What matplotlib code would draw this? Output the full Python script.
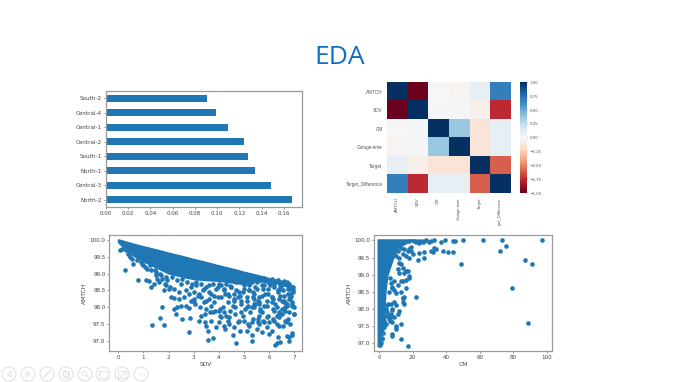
import matplotlib
matplotlib.use("Agg")
import matplotlib.pyplot as plt
from matplotlib.patches import Circle, Polygon, Rectangle
from matplotlib.transforms import Bbox

W, H = 680, 382
regions = ["North-2", "Central-3", "North-1", "South-1", "Central-2", "Central-1", "Central-4", "South-2"]
shares = [0.167, 0.1486, 0.134, 0.128, 0.124, 0.11, 0.099, 0.091]
share_ticks = [0.00, 0.02, 0.04, 0.06, 0.08, 0.10, 0.12, 0.14, 0.16]

corr_labels = ["AMTCH", "SDV", "CM", "Outage-time", "Target", "Target_Difference"]
corr = [
    [1.00, -0.98, 0.00, -0.03, 0.08, 0.68],
    [-0.98, 1.00, 0.02, 0.02, -0.05, -0.75],
    [0.00, 0.02, 1.00, 0.38, -0.13, 0.08],
    [-0.03, 0.02, 0.38, 1.00, -0.13, 0.08],
    [0.08, -0.05, -0.13, -0.13, 1.00, -0.60],
    [0.68, -0.75, 0.08, 0.08, -0.60, 1.00],
]

# saturated wedge of the SDV scatter, read as an envelope
sdv_env = [0, 0.5, 1, 1.5, 2, 2.5, 3, 3.5, 4, 4.5, 5, 5.5, 6, 6.5, 6.9]
sdv_top = [100.02, 99.91, 99.81, 99.72, 99.62, 99.53, 99.43, 99.34, 99.24, 99.15, 99.05, 98.96, 98.86, 98.78, 98.62]
sdv_bot = [99.95, 99.6, 99.38, 99.2, 99.02, 98.93, 98.85, 98.82, 98.8, 98.75, 98.7, 98.8, 98.75, 98.7, 98.55]

sdv_x = [0.05, 0.25, 0.4, 0.55, 0.6, 0.75, 0.9, 0.93, 0.8, 1.1, 1.2, 1.3, 1.4, 1.35, 1.65, 1.75, 1.8, 1.25, 1.45, 1.5, 1.55,
         1.6, 1.7, 1.8, 1.9, 2.0, 2.1, 2.2, 2.2, 2.3, 2.35, 2.4, 2.5, 2.55, 2.8, 2.85, 2.8, 3.0, 1.75, 1.85, 1.95, 2.05,
         2.2, 2.4, 2.5, 2.6, 2.7, 2.8, 2.9, 3.0, 3.1, 3.2, 3.3, 3.4, 3.5, 3.6, 3.7, 3.8, 3.9, 4.0,
         2.7, 2.9, 3.05, 3.15, 3.25, 3.4, 3.5, 3.6, 3.7, 3.85, 3.95, 4.05, 4.15, 4.25, 4.35, 4.45,
         3.2, 3.3, 3.45, 3.55, 3.55, 3.5, 3.7, 3.75, 3.65, 3.9, 4.0, 4.1, 4.2, 4.25, 4.35, 4.4, 4.55, 4.6, 4.7, 4.85, 4.75,
         4.1, 4.2, 4.3, 4.4, 4.5, 4.6, 4.7, 4.8, 4.9, 5.0, 5.1, 5.2, 5.3, 5.4, 5.5,
         4.05, 4.2, 4.4, 4.55, 4.65, 4.8, 4.95, 5.05, 5.15, 5.25, 5.35, 5.45, 5.55, 5.65,
         4.5, 4.6, 4.75, 4.9, 5.0, 5.1, 5.2, 5.3, 5.4, 5.5, 5.6, 5.7, 5.8, 5.9, 6.0,
         5.0, 5.1, 5.2, 5.3, 5.32, 5.3, 5.5, 5.55, 5.6, 5.7, 5.8, 5.9, 6.0, 6.1, 6.2, 6.25, 6.3, 6.35, 6.4, 6.45,
         5.2, 5.35, 5.45, 5.6, 5.75, 5.85, 5.95, 6.05, 6.15, 6.25, 6.35, 6.45, 6.55, 6.65, 6.75, 6.85, 6.95,
         5.4, 5.55, 5.7, 5.8, 5.95, 6.1, 6.2, 6.3, 6.4, 6.5, 6.6, 6.7, 6.8, 6.9, 6.97,
         5.5, 5.65, 5.8, 5.95, 6.1, 6.2, 6.35, 6.5, 6.6, 6.7, 6.8, 6.9, 6.95, 6.85,
         5.6, 5.75, 5.9, 6.0, 6.15, 6.3, 6.4, 6.55, 6.62, 6.68, 6.75, 6.82, 6.92, 6.97, 6.72, 6.8, 6.78, 6.9, 6.7,
         6.1, 6.25, 6.4, 6.5, 6.6, 6.7, 6.85, 6.95, 6.3, 6.5, 6.65, 6.8, 6.9, 6.6, 6.75, 6.55, 6.45, 6.88, 6.97]
sdv_y = [99.7, 99.1, 99.6, 99.45, 99.3, 99.4, 99.35, 99.3, 98.8, 98.8, 98.77, 98.6, 98.7, 97.48, 97.67, 98.0, 97.48, 99.25, 99.1, 98.95, 98.85,
         98.75, 98.95, 98.5, 98.65, 98.55, 98.3, 98.28, 97.95, 97.8, 98.0, 98.25, 98.05, 97.65, 97.27, 97.67, 97.98, 98.15, 98.85, 98.7, 98.8, 98.6,
         98.55, 98.45, 98.7, 98.3, 98.5, 98.4, 98.6, 98.45, 98.75, 98.4, 98.3, 98.55, 98.2, 98.65, 98.4, 98.15, 98.55, 98.7,
         98.05, 98.2, 98.1, 98.35, 98.0, 98.15, 97.95, 98.25, 98.05, 97.9, 98.3, 97.75, 98.0, 98.4, 98.15, 97.9,
         97.6, 97.75, 97.55, 97.3, 97.03, 97.45, 97.6, 97.08, 97.85, 97.4, 97.55, 97.7, 97.45, 97.35, 97.6, 97.5, 97.18, 97.4, 96.92, 97.28, 97.55,
         98.65, 98.5, 98.7, 98.35, 98.6, 98.2, 98.75, 98.45, 98.1, 98.55, 98.3, 98.65, 98.0, 98.4, 98.75,
         97.95, 97.85, 97.7, 98.05, 97.8, 97.6, 97.75, 97.95, 97.5, 97.85, 97.65, 98.1, 97.55, 97.95,
         98.6, 98.4, 98.3, 98.2, 98.65, 98.0, 98.5, 98.75, 98.25, 98.55, 98.1, 98.35, 98.65, 98.2, 98.75,
         97.6, 97.3, 97.45, 97.55, 96.98, 97.18, 97.35, 97.65, 97.5, 97.25, 97.55, 97.4, 97.2, 97.3, 97.58, 96.88, 96.92, 97.1, 97.45, 96.95,
         98.7, 98.45, 98.85, 98.3, 98.55, 98.8, 98.4, 98.65, 98.25, 98.75, 98.5, 98.35, 98.7, 98.15, 98.55, 98.4, 98.6,
         98.0, 98.2, 97.85, 98.05, 97.75, 98.15, 97.9, 98.0, 97.8, 98.2, 97.95, 98.1, 97.85, 98.15, 97.8,
         98.9, 98.8, 98.88, 98.75, 98.85, 98.7, 98.8, 98.65, 98.78, 98.75, 98.7, 98.6, 98.5, 98.55,
         97.75, 97.6, 97.7, 97.55, 97.65, 97.5, 97.7, 97.45, 97.6, 97.55, 97.65, 97.5, 97.22, 97.8, 97.15, 97.1, 97.0, 97.18, 97.6,
         98.3, 98.1, 98.25, 97.95, 98.35, 98.05, 98.3, 98.45, 97.75, 97.8, 97.9, 98.25, 98.05, 98.2, 98.4, 98.5, 98.55, 98.35, 98.0]

# second reading of the fringe just under the SDV wedge
fringe_x = [0.15, 0.3, 0.45, 0.7, 1.0, 1.05, 1.15, 1.3, 1.5, 1.65, 1.9, 2.15, 2.35, 2.55, 2.75, 2.95, 3.1, 3.3, 3.5, 3.75, 3.95, 4.2, 4.45, 4.7,
            4.95, 5.2, 5.45, 5.7, 5.95, 6.2, 6.45, 3.0, 3.35, 3.6, 3.8, 4.1, 4.35, 4.6, 4.85, 5.1, 5.35, 5.6, 5.85, 6.1, 6.35, 6.6, 6.85,
            3.45, 3.75, 4.0, 4.3, 4.65, 4.9, 5.15, 5.4, 5.65, 5.9, 6.15, 6.4, 6.65, 6.92]
fringe_y = [99.75, 99.7, 99.5, 99.55, 99.25, 99.2, 99.15, 99.1, 99.05, 99.0, 98.9, 98.9, 98.8, 98.85, 98.75, 98.7, 98.65, 98.7, 98.6, 98.68, 98.6, 98.55, 98.62, 98.5,
            98.45, 98.5, 98.6, 98.65, 98.55, 98.6, 98.62, 98.25, 98.5, 98.45, 98.35, 98.3, 98.4, 98.25, 98.35, 98.2, 98.3, 98.15, 98.4, 98.3, 98.45, 98.15, 98.25,
            97.8, 97.85, 97.9, 97.75, 98.0, 97.85, 98.05, 98.1, 97.9, 98.05, 97.95, 97.85, 98.0, 98.1]

# saturated column of the CM scatter, read as an envelope
cm_env_y = [96.9, 97.0, 97.2, 97.5, 98.0, 98.5, 99.0, 99.5, 99.8, 99.92, 100.03]
cm_env_right = [0.2, 0.6, 1.2, 3.5, 3.2, 3.8, 5.0, 8.5, 11.5, 16.0, 22.0]
cm_env_left = [-0.8] * 11

cm_x = [62, 73, 97, 50, 75.5, 72, 87, 91, 49, 79, 89, 17, 13, 8, 22, 44, 41, 38, 33, 34, 37, 39, 44, 45, 33, 31, 32, 27, 27, 24, 23,
        20, 19, 19, 18, 18, 31, 30, 28, 27, 26, 25, 24, 23, 22, 21, 18, 17, 16, 15, 14, 13, 12, 11, 10, 9,
        17, 18, 16, 15, 14, 13, 12, 11, 18, 16, 14, 12, 16, 13, 11, 9, 8, 15, 14.5, 14, 13, 10, 9, 8, 7, 6.5, 6,
        10, 9, 8, 7, 12, 11, 10, 9, 8, 7, 6, 13, 10, 10, 8, 6, 5, 5, 4, 5.5, 6.5, 7, 7.5, 3.5, 4, 3, 2.5, 2, 1.5, 4, 3, 1, 0.5, 3, 15, 14]
cm_y = [100, 100, 100, 100, 99.83, 99.68, 99.44, 99.3, 99.3, 98.62, 97.58, 96.92, 97.1, 97.27, 98.35, 99.65, 99.65, 99.7, 99.77, 99.76, 99.95, 100, 99.97, 99.97, 100, 99.68, 99.65, 99.65, 99.48, 99.63, 99.42,
        99.6, 99.7, 99.8, 99.75, 99.5, 99.97, 99.95, 100, 99.97, 99.95, 99.98, 99.93, 99.97, 99.95, 99.98, 99.97, 99.7, 99.55, 99.75, 99.6, 99.78, 99.5, 99.7, 99.55, 99.8,
        99.1, 98.95, 98.85, 99.05, 98.8, 99.3, 99.35, 99.15, 98.9, 99.1, 99.2, 99.05, 98.6, 98.8, 98.7, 98.8, 98.6, 98.35, 98.2, 98.3, 98.5, 98.45, 98.55, 98.65, 98.75, 98.9, 98.5,
        98.1, 98.2, 97.95, 98.15, 97.92, 97.85, 97.45, 97.75, 98.0, 97.85, 97.8, 97.55, 97.4, 97.5, 97.6, 97.7, 98.1, 97.9, 98.0, 98.15, 97.65, 97.75, 97.2, 97.55, 97.8, 97.6, 97.3, 97.15, 97.1, 97.55, 97.45, 97.0, 96.95, 97.65, 98.15, 98.3]

slide_title = "EDA"
BLUE = "#1f77b4"
GREY = "#9a9a9a"
TXT = "#444444"

def make_axes(fig, l, t, r, b):
    return fig.add_axes([l / W, 1 - b / H, (r - l) / W, (b - t) / H])

def style(ax):
    for s in ax.spines.values():
        s.set_color(GREY)
        s.set_linewidth(0.9)
    ax.tick_params(labelsize=4.1, length=1.6, width=0.4, pad=1.2, colors=TXT)

fig = plt.figure(figsize=(W / 100, H / 100), dpi=100, facecolor="white")
fig.text(340 / W, 1 - 58 / H, slide_title, color="#0F6FC6", fontsize=19,
         family="Open Sans", ha="center", va="center")

# bars
ax = make_axes(fig, 106, 91, 302, 207)
ax.barh(range(len(regions)), shares, height=0.5, color=BLUE)
ax.set_yticks(range(len(regions)), regions)
ax.set_xticks(share_ticks, [f"{v:.2f}" for v in share_ticks])
ax.set_xlim(0, 0.1762)
ax.set_ylim(-0.5, 7.5)
style(ax)

# heatmap
ax = make_axes(fig, 386.7, 82.3, 510.3, 193.3)
im = ax.imshow(corr, cmap="RdBu", vmin=-1, vmax=1, aspect="auto", interpolation="nearest")
ax.set_xticks(range(6), corr_labels, rotation=90, family="Liberation Sans")
ax.set_yticks(range(6), corr_labels, family="Liberation Sans")
ax.tick_params(length=0, labelsize=3.3, pad=3, colors="#555555")
ax.tick_params(axis="x", labelsize=3.0)
for s in ax.spines.values():
    s.set_visible(False)
clip = Bbox([[380, H - 226], [520, H - 194]])
for t in ax.get_xticklabels():
    t.set_clip_box(clip)
    t.set_clip_on(True)
cax = make_axes(fig, 520.3, 82.3, 526.7, 193.3)
cb = fig.colorbar(im, cax=cax)
cb.set_ticks([-1, -0.75, -0.5, -0.25, 0, 0.25, 0.5, 0.75, 1])
cb.ax.tick_params(labelsize=2.9, length=1, width=0.3, pad=1, colors="#555555")
cb.outline.set_visible(False)

# SDV scatter
ax = make_axes(fig, 109.3, 235, 302.3, 351)
ax.fill_between(sdv_env, sdv_bot, sdv_top, color=BLUE, linewidth=1.5)
ax.scatter(sdv_x, sdv_y, s=11, color=BLUE, linewidths=0)
ax.scatter(fringe_x, fringe_y, s=11, color=BLUE, linewidths=0)
ax.set_xlim(-0.36, 7.32)
ax.set_xticks(range(8))
ax.set_yticks([97, 97.5, 98, 98.5, 99, 99.5, 100], ["97.0", "97.5", "98.0", "98.5", "99.0", "99.5", "100.0"])
ax.set_xlabel("SDV", fontsize=4.3, labelpad=1.5, color=TXT)
ax.set_ylabel("AMTCH", fontsize=4.3, labelpad=1.5, color=TXT)
ax.set_ylim(96.69, 100.16)
style(ax)

# CM scatter
ax = make_axes(fig, 374, 235, 552, 351)
ax.fill_betweenx(cm_env_y, cm_env_left, cm_env_right, color=BLUE, linewidth=1)
ax.scatter(cm_x, cm_y, s=11, color=BLUE, linewidths=0)
ax.set_xlim(-3, 103)
ax.set_ylim(96.76, 100.16)
ax.set_xticks(range(0, 101, 20))
ax.set_yticks([97, 97.5, 98, 98.5, 99, 99.5, 100], ["97.0", "97.5", "98.0", "98.5", "99.0", "99.5", "100.0"])
ax.set_xlabel("CM", fontsize=4.3, labelpad=1.5, color=TXT)
ax.set_ylabel("AMTCH", fontsize=4.3, labelpad=1.5, color=TXT)
style(ax)

# presentation controls
ov = fig.add_axes([0, 0, 1, 1], facecolor="none")
ov.set_xlim(0, W)
ov.set_ylim(H, 0)
ov.axis("off")
IC = "#e2e2e2"
for cx in [9, 28, 47, 66, 85, 103, 122, 141]:
    ov.add_patch(Circle((cx, 374), 7, fill=False, ec=IC, lw=0.8))
ov.add_patch(Polygon([(11, 371), (7, 374), (11, 377)], fill=False, ec=IC, lw=0.7))
ov.add_patch(Polygon([(26, 371), (30, 374), (26, 377)], fill=False, ec=IC, lw=0.7))
ov.plot([44, 50], [377, 371], color=IC, lw=1.2)
ov.add_patch(Rectangle((62.5, 371), 5, 5, fill=False, ec=IC, lw=0.7))
ov.add_patch(Rectangle((65, 373), 4, 5, fill=False, ec=IC, lw=0.7))
ov.add_patch(Circle((84.5, 373.5), 2.5, fill=False, ec=IC, lw=0.7))
ov.plot([86.5, 89], [375.5, 378], color=IC, lw=0.8)
ov.add_patch(Rectangle((99, 370.5), 8, 7, fill=False, ec=IC, lw=0.7))
ov.add_patch(Rectangle((118, 370.5), 8, 7, fill=False, ec=IC, lw=0.7))
ov.plot([120, 126], [378, 371], color=IC, lw=0.7)
ov.scatter([138.5, 141, 143.5], [374, 374, 374], s=1.2, color=IC, linewidths=0)

fig.savefig("out.png", dpi=100, facecolor="white")
